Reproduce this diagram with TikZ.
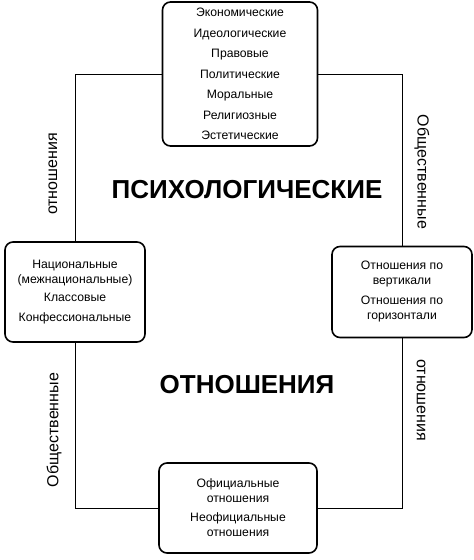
\documentclass[tikz,border=0pt]{standalone}
\usepackage{fontspec}
\setmainfont{Liberation Sans}
\usetikzlibrary{positioning}
\tikzset{
    x=1pt, y=-1pt, % pixel-like coordinates, y grows downwards
    kind/.style={draw, line width=1.6pt, rounded corners=8pt, align=center,
        font=\fontsize{12.2}{15}\selectfont, inner sep=2pt}, % the boxes with kinds of relations
    side/.style={font=\fontsize{16}{18}\selectfont}, % labels along the frame
    big/.style={font=\bfseries\fontsize{26}{28}\selectfont}, % the big central words
}
\begin{document}
\begin{tikzpicture}
    \useasboundingbox (0,0) rectangle (474,560);
    \node[kind, minimum width=155pt, minimum height=144pt,
        font=\fontsize{12.2}{20.5}\selectfont] (top) at (240,74)
        {Экономические\\Идеологические\\Правовые\\Политические\\Моральные\\Религиозные\\Эстетические};
    \node[kind, minimum width=140pt, minimum height=100pt] (left) at (75,292)
        {Национальные\\(межнациональные)\\[3pt]Классовые\\[5pt]Конфессиональные};
    \node[kind, minimum width=140pt, minimum height=91pt] (right) at (402,292)
        {Отношения по\\вертикали\\[5pt]Отношения по\\горизонтали};
    \node[kind, minimum width=158pt, minimum height=90pt] (bottom) at (238,508)
        {Официальные\\отношения\\[4pt]Неофициальные\\отношения};
    % frame between the boxes
    \draw (top.west) -| (left.north);
    \draw (left.south) |- (bottom.west);
    \draw (bottom.east) -| (right.south);
    \draw (right.north) |- (top.east);
    % labels along the frame
    \node[side, rotate=90] (lt) at (53,174) {отношения};
    \node[side, rotate=-90] (rt) at (422,172) {Общественные};
    \node[side, rotate=90] (lb) at (54,430) {Общественные};
    \node[side, rotate=-90] (rb) at (421,400) {отношения};
    \node[big] (psy) at (247,190) {ПСИХОЛОГИЧЕСКИЕ};
    \node[big] (rel) at (247,385) {ОТНОШЕНИЯ};
\end{tikzpicture}
\end{document}
